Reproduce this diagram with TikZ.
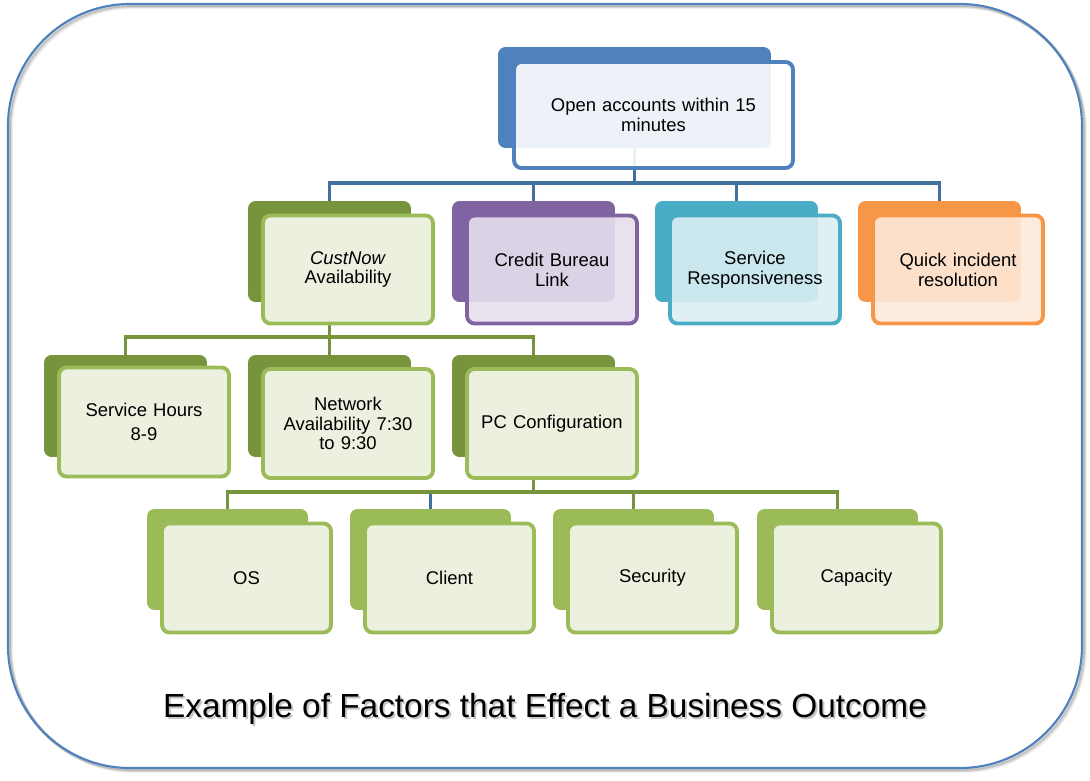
\documentclass[tikz,border=0pt]{standalone}
\usepackage{fontspec}
\setmainfont{Liberation Sans}
\definecolor{bblue}{HTML}{4F81BD}
\definecolor{cblue}{HTML}{41719C}
\definecolor{gdark}{HTML}{77933C}
\definecolor{glight}{HTML}{9BBB59}
\definecolor{gfill}{HTML}{EBF1DE}
\definecolor{purp}{HTML}{8064A2}
\definecolor{purpf}{HTML}{E5DFED}
\definecolor{tealc}{HTML}{4BACC6}
\definecolor{tealf}{HTML}{DAEEF3}
\definecolor{orng}{HTML}{F79646}
\definecolor{orngf}{HTML}{FDE9D9}
\newcommand\lbl{\fontsize{10.5}{11.3}\selectfont}
\newcommand\ttl{Example of Factors that Effect a Business Outcome}
\pgfdeclarelayer{bg}
\pgfsetlayers{bg,main}
\begin{document}
\begin{tikzpicture}[x=0.02cm,y=-0.02cm,
  backbox/.style={fill=#1, draw=none, rounded corners=0.15cm, inner sep=0pt,
    minimum width=3.26cm, minimum height=2.02cm},
  frontbox/.style 2 args={draw=#1, fill=#2, line width=2.2pt, rounded corners=0.15cm,
    fill opacity=0.9, text opacity=1, inner sep=0pt, minimum width=3.4cm,
    minimum height=2.16cm, align=center, font=\lbl, text width=3.2cm},
  conn/.style={draw=#1, line width=2.1pt},
  frame/.style={draw=bblue, line width=1.2pt, rounded corners=2.44cm}
]
\useasboundingbox (0,0) rectangle (1090,781);
% outer frame with soft shadow
\begin{pgfonlayer}{bg}
\foreach \o/\op in {3.5/0.06,2.5/0.1,1.5/0.15}{
  \draw[draw=black, line width=1.6pt, opacity=\op, rounded corners=2.44cm]
    (8+\o,4+\o) rectangle (1082+\o,768+\o);
}
\end{pgfonlayer}
\draw[frame] (8,4) rectangle (1082,768);

% top
\node[backbox=bblue, minimum width=5.46cm] (topb) at (634.5,97.5) {};
\node[frontbox={bblue}{white}, minimum width=5.58cm, minimum height=2.12cm, text width=5.2cm] (topf) at (653.5,115) {Open accounts within 15\\minutes};

% level 2
\node[backbox=gdark] (cb) at (329.5,251.5) {};
\node[frontbox={glight}{gfill}, fill opacity=1] (cf) at (348,269.5) {\textit{CustNow}\\Availability};
\node[backbox=purp] (pb) at (533.5,251.5) {};
\node[frontbox={purp}{purpf}] (pf) at (552,269.5) {Credit Bureau\\Link};
\node[backbox=tealc] (sb) at (736.5,251.5) {};
\node[frontbox={tealc}{tealf}] (sf) at (755,269.5) {Service\\Responsiveness};
\node[backbox=orng] (qb) at (939.5,251.5) {};
\node[frontbox={orng}{orngf}] (qf) at (958,269.5) {Quick incident\\resolution};

% level 3
\node[backbox=gdark, minimum height=2.04cm] (hb) at (125.5,406) {};
\node[frontbox={glight}{gfill}, fill opacity=1, minimum height=2.18cm] (hf) at (144,422) {Service Hours\\[2.2pt]8-9};
\node[backbox=gdark, minimum height=2.04cm] (nb) at (329.5,406) {};
\node[frontbox={glight}{gfill}, fill opacity=1, minimum height=2.18cm] (nf) at (348,423.5) {Network\\Availability 7:30\\to 9:30};
\node[backbox=gdark, minimum height=2.04cm] (pcb) at (533.5,406) {};
\node[frontbox={glight}{gfill}, fill opacity=1, minimum height=2.18cm] (pcf) at (552,423.5) {PC Configuration};

% level 4
\node[backbox=glight, minimum width=3.22cm] (ob) at (227.5,559.5) {};
\node[frontbox={glight}{gfill}, fill opacity=1, minimum width=3.38cm, minimum height=2.18cm] (of) at (246.5,578) {OS};
\node[backbox=glight, minimum width=3.22cm] (clb) at (430.5,559.5) {};
\node[frontbox={glight}{gfill}, fill opacity=1, minimum width=3.38cm, minimum height=2.18cm] (clf) at (449.5,578) {Client};
\node[backbox=glight, minimum width=3.22cm] (seb) at (633.5,559.5) {};
\node[frontbox={glight}{gfill}, fill opacity=1, minimum width=3.38cm, minimum height=2.18cm] (sef) at (652.5,578) {Security};
\node[backbox=glight, minimum width=3.22cm] (cab) at (837.5,559.5) {};
\node[frontbox={glight}{gfill}, fill opacity=1, minimum width=3.38cm, minimum height=2.18cm] (caf) at (856.5,578) {Capacity};

% connectors
\coordinate (bar1) at (0,183);
\coordinate (bar2) at (0,337);
\coordinate (bar3) at (0,492);
\begin{pgfonlayer}{bg}
  \foreach \c in {cb,pb,sb,qb}{
    \draw[conn=cblue] (topb.south) -- (topb.south |- bar1) -| (\c.north);
  }
  \draw[conn=cblue, line width=1.9pt] (clb.north) -- (clb.north |- bar3);
  \foreach \c in {hb,nb,pcb}{
    \draw[conn=gdark] (cb.south) -- (cb.south |- bar2) -| (\c.north);
  }
  \foreach \c in {ob,seb,cab}{
    \draw[conn=gdark] (pcb.south) -- (pcb.south |- bar3) -| (\c.north);
  }
  \draw[conn=gdark] (ob.north |- bar3) -- (cab.north |- bar3);
\end{pgfonlayer}

% title with soft shadow (one node)
\node[anchor=base, font=\fontsize{19}{21}\selectfont] (title) at (545,717)
  {\makebox[0pt][l]{\raisebox{-1.6pt}{\hspace{1.1pt}\textcolor{black!22}{\ttl}}}\ttl};
\end{tikzpicture}
\end{document}
